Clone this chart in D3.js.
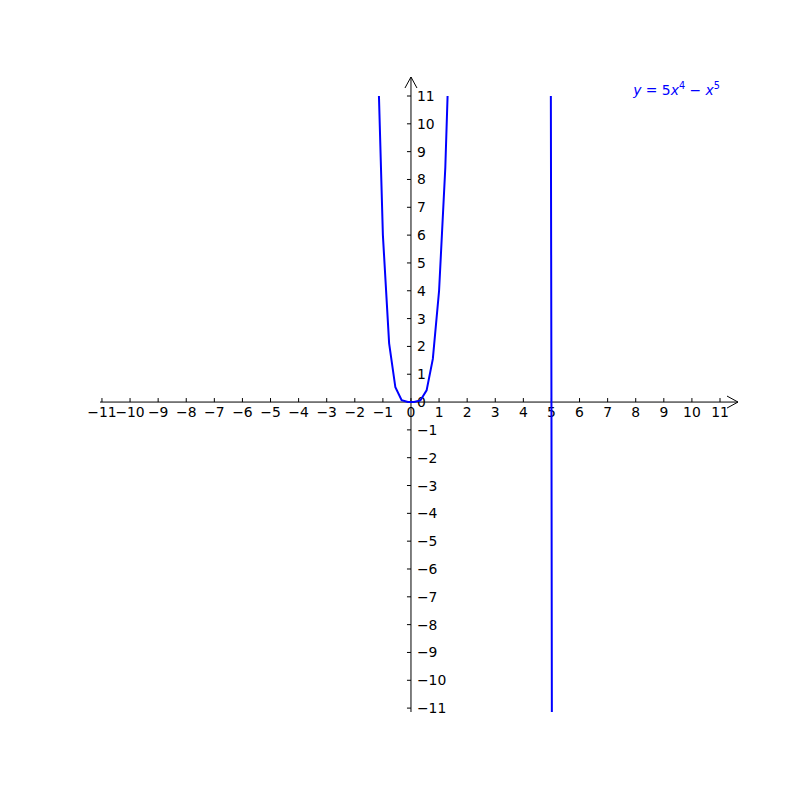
<!DOCTYPE html>
<html>
<head>
<meta charset="utf-8">
<script src="https://cdn.jsdelivr.net/npm/d3@7"></script>
<style>
  body { margin: 0; background: #fff; }
  svg { display: block; font-family: "DejaVu Sans", sans-serif; }
</style>
</head>
<body>
<svg id="chart" width="800" height="800"></svg>
<script>
// sample points (clipped ones estimated)
const xValues = [-1.444, -1.222, -1.0, -0.778, -0.556, -0.333, -0.111, 0.111, 0.333, 0.556, 0.778, 1.0, 1.222, 1.444, 4.778, 5.0, 5.222];
const yValues = [28.0, 13.9, 6.0, 2.11, 0.53, 0.066, 0.001, 0.001, 0.058, 0.42, 1.55, 4.0, 8.43, 15.5, 116, 0, -165];
const xTicks = d3.range(-11, 12);
const yTicks = d3.range(-11, 12);

const svg = d3.select("#chart");
const plotLeft = 100, plotRight = 720, plotTop = 96, plotBottom = 712;

const x = d3.scaleLinear().domain([-11.07, 11]).range([plotLeft, plotRight]);
const y = d3.scaleLinear().domain([-11.14, 11]).range([plotBottom, plotTop]);

const fmt = d => (d < 0 ? "\u2212" + Math.abs(d) : String(d));

// clip to axes box
svg.append("defs").append("clipPath").attr("id", "clip")
  .append("rect")
  .attr("x", plotLeft).attr("y", plotTop)
  .attr("width", plotRight - plotLeft).attr("height", plotBottom - plotTop);

const x0 = x(0), y0 = y(0);

// x spine with arrow
svg.append("line")
  .attr("x1", plotLeft).attr("x2", plotRight + 18)
  .attr("y1", y0).attr("y2", y0)
  .attr("stroke", "#000").attr("stroke-width", 1);
svg.append("path")
  .attr("d", `M${plotRight + 7},${y0 - 6} L${plotRight + 18},${y0} L${plotRight + 7},${y0 + 6}`)
  .attr("fill", "none").attr("stroke", "#000").attr("stroke-width", 1);

// y spine with arrow
svg.append("line")
  .attr("x1", x0).attr("x2", x0)
  .attr("y1", plotBottom).attr("y2", plotTop - 19)
  .attr("stroke", "#000").attr("stroke-width", 1);
svg.append("path")
  .attr("d", `M${x0 - 6},${plotTop - 8} L${x0},${plotTop - 19} L${x0 + 6},${plotTop - 8}`)
  .attr("fill", "none").attr("stroke", "#000").attr("stroke-width", 1);

// x ticks (pointing up) and labels below
const gx = svg.append("g");
gx.selectAll("line").data(xTicks).join("line")
  .attr("x1", d => x(d)).attr("x2", d => x(d))
  .attr("y1", y0).attr("y2", y0 - 4)
  .attr("stroke", "#000");
gx.selectAll("text").data(xTicks).join("text")
  .attr("x", d => x(d)).attr("y", y0 + 15)
  .attr("text-anchor", "middle")
  .style("font-size", "13.9px")
  .text(fmt);

// y ticks (pointing left) and labels right
const gy = svg.append("g");
gy.selectAll("line").data(yTicks).join("line")
  .attr("x1", x0).attr("x2", x0 - 4)
  .attr("y1", d => y(d)).attr("y2", d => y(d))
  .attr("stroke", "#000");
gy.selectAll("text").data(yTicks).join("text")
  .attr("x", x0 + 6).attr("y", d => y(d) + 5)
  .attr("text-anchor", "start")
  .style("font-size", "13.9px")
  .text(fmt);

// curve
const pts = xValues.map((v, i) => [v, yValues[i]]);
svg.append("path")
  .datum(pts)
  .attr("clip-path", "url(#clip)")
  .attr("fill", "none")
  .attr("stroke", "#0000ff")
  .attr("stroke-width", 2)
  .attr("d", d3.line().x(d => x(d[0])).y(d => y(d[1])));

// label top right
const t = svg.append("text")
  .attr("x", plotRight).attr("y", 95)
  .attr("text-anchor", "end")
  .attr("fill", "#0000ff")
  .style("font-size", "13.9px");
t.append("tspan").style("font-style", "italic").text("y");
t.append("tspan").text(" = 5");
t.append("tspan").style("font-style", "italic").text("x");
t.append("tspan").attr("dy", -6).style("font-size", "9.7px").text("4");
t.append("tspan").attr("dy", 6).text(" \u2212 ");
t.append("tspan").style("font-style", "italic").text("x");
t.append("tspan").attr("dy", -6).style("font-size", "9.7px").text("5");
</script>
</body>
</html>
